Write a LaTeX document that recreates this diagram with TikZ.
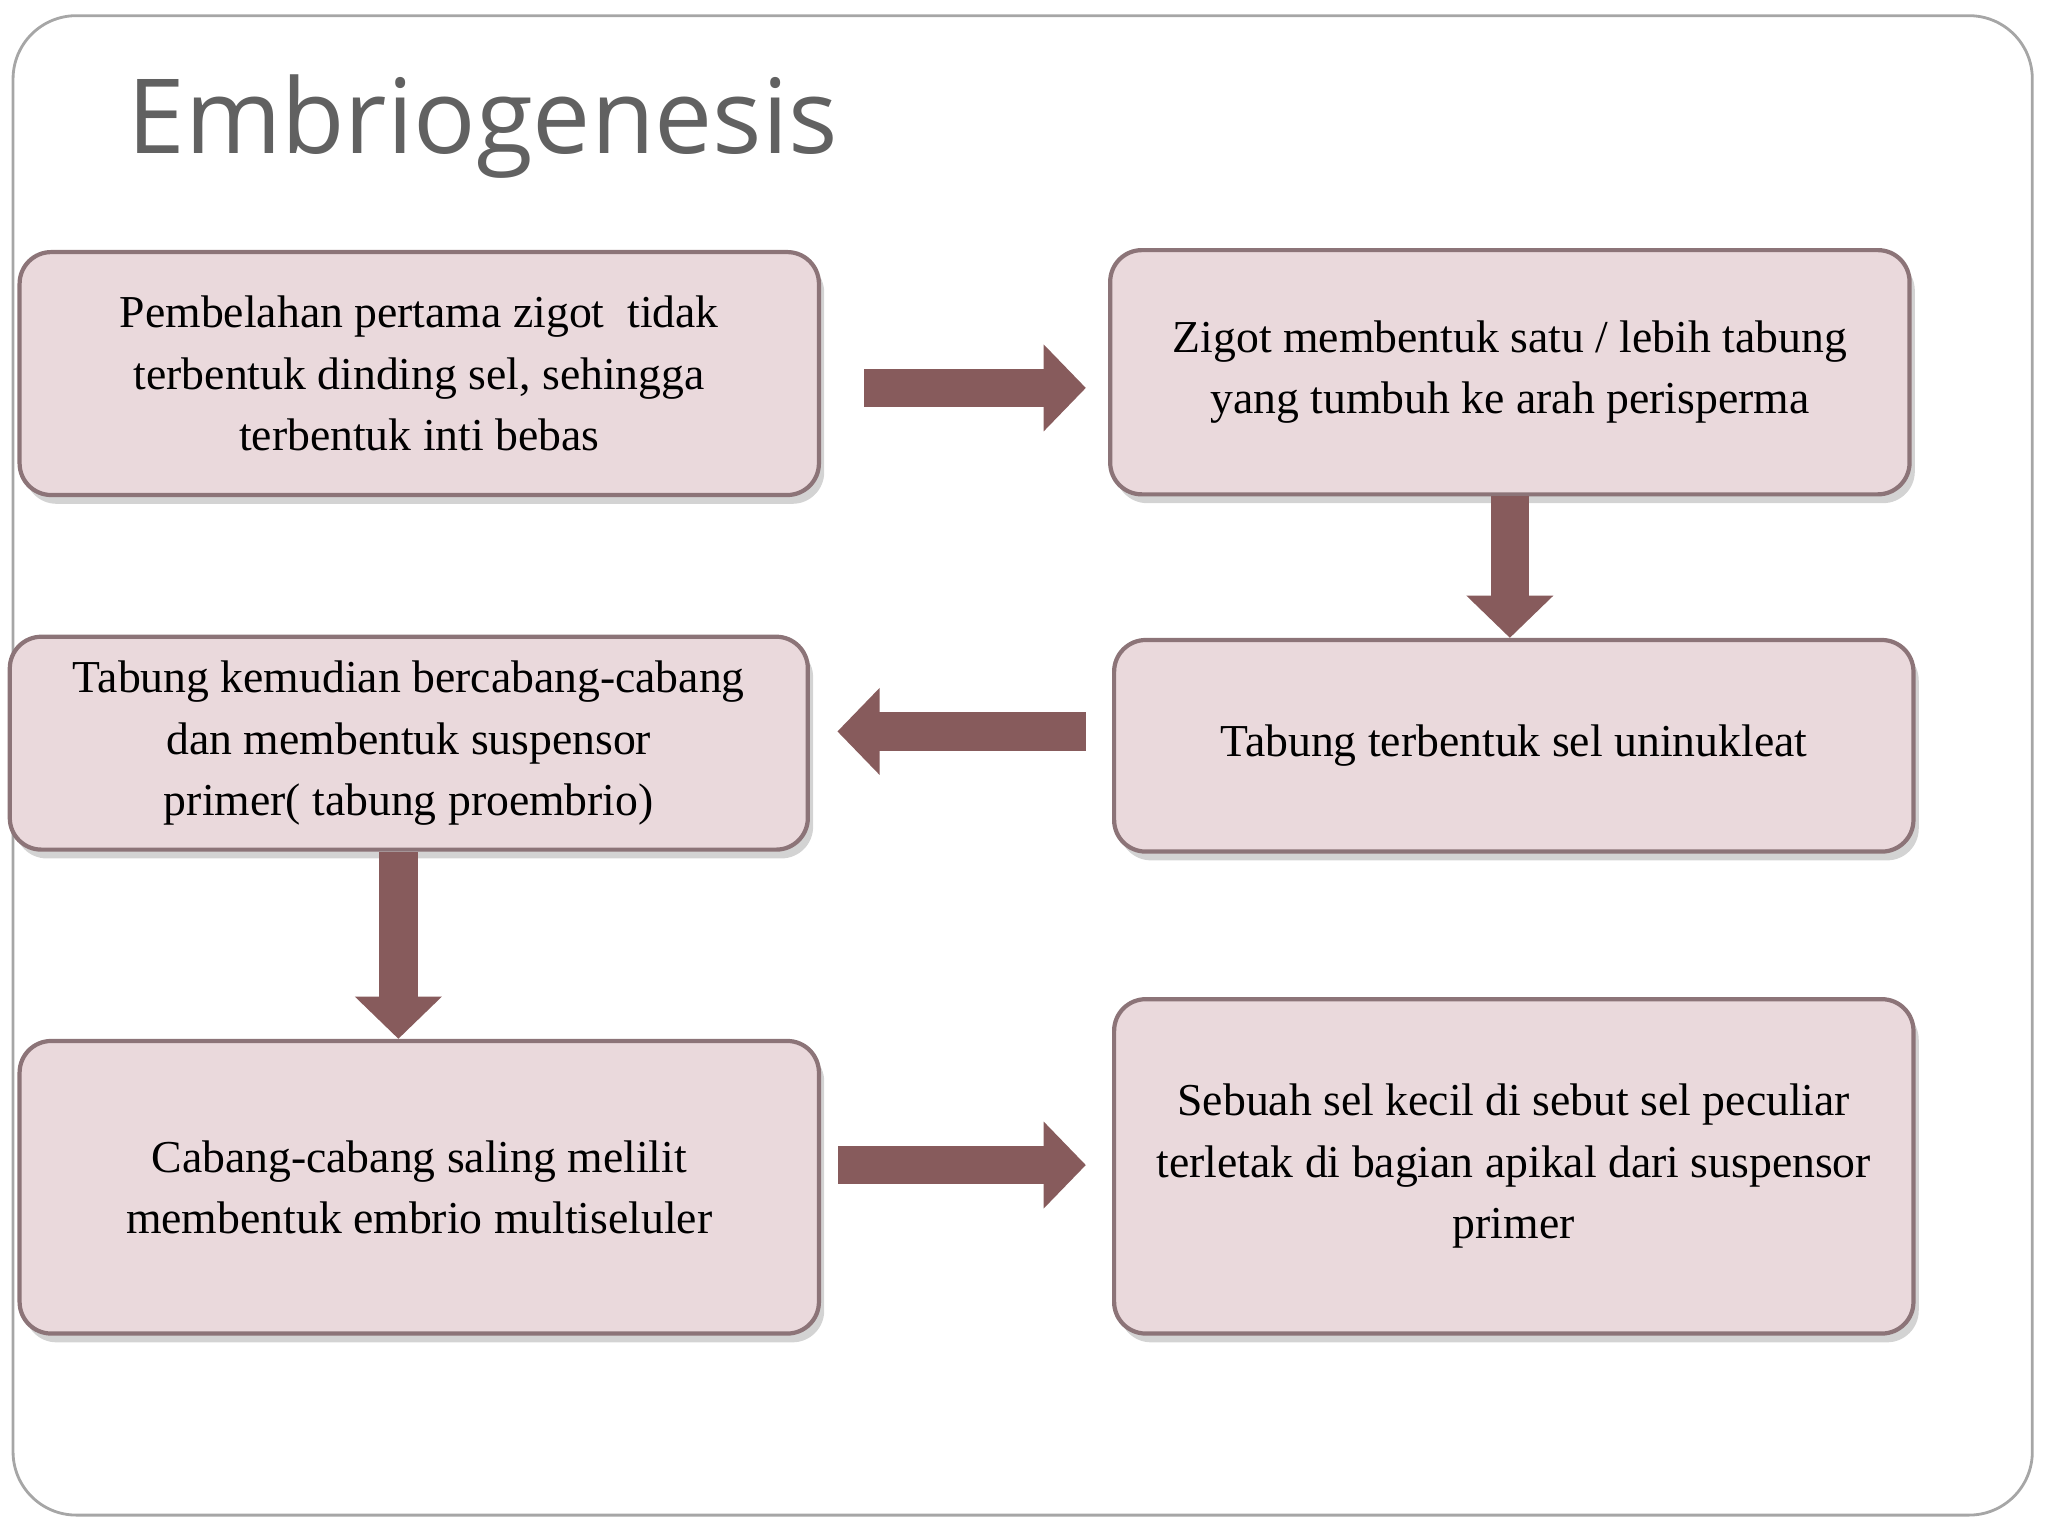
\documentclass[tikz,border=0pt]{standalone}
\usepackage{fontspec}
\setmainfont{Liberation Serif}
\newfontfamily\titlefont{Open Sans}
\usetikzlibrary{arrows.meta,shadows}
\definecolor{boxfill}{HTML}{EAD9DC}
\definecolor{boxline}{HTML}{8C7478}
\definecolor{arrowc}{HTML}{875B5C}
\begin{document}
\begin{tikzpicture}[x=0.01306cm,y=-0.01306cm,
  box/.style={draw=boxline,line width=1.2pt,fill=boxfill,rounded corners=9pt,
    drop shadow={shadow xshift=1.5pt,shadow yshift=-2.5pt,opacity=0.35},
    align=center,font=\fontsize{13}{17.5}\selectfont,inner sep=0pt},
  barrow/.style={draw=arrowc,line width=11pt,-{Triangle[width=24pt,length=12pt,fill=arrowc]}}]
\useasboundingbox (0,0) rectangle (1568,1176);
\draw[gray!70,line width=0.8pt,rounded corners=18pt] (10,12) rectangle (1556,1160);
\node[anchor=west,text=black!62,font=\titlefont\fontsize{29.5}{34}\selectfont] (title) at (88,97) {Embriogenesis};
\node[box,minimum width=612*0.01306cm,minimum height=186*0.01306cm] (A) at (321,286)
 {Pembelahan pertama zigot\ \ tidak\\terbentuk dinding sel, sehingga\\terbentuk inti bebas};
\node[box,minimum width=612*0.01306cm,minimum height=187*0.01306cm] (B) at (1156,285)
 {Zigot membentuk satu / lebih tabung\\yang tumbuh ke arah perisperma};
\node[box,minimum width=612*0.01306cm,minimum height=162*0.01306cm] (C) at (1159,571)
 {Tabung terbentuk sel uninukleat};
\node[box,minimum width=611*0.01306cm,minimum height=163*0.01306cm] (D) at (313,569)
 {Tabung kemudian bercabang-cabang\\dan membentuk suspensor\\primer( tabung proembrio)};
\node[box,minimum width=612*0.01306cm,minimum height=224*0.01306cm] (E) at (321,909)
 {Cabang-cabang saling melilit\\membentuk embrio multiseluler};
\node[box,minimum width=612*0.01306cm,minimum height=256*0.01306cm] (F) at (1159,893)
 {Sebuah sel kecil di sebut sel peculiar\\terletak di bagian apikal dari suspensor\\primer};
\draw[barrow] ([xshift=33*0.01306cm,yshift=-11*0.01306cm]A.east) -- ([xshift=-17*0.01306cm,yshift=-12*0.01306cm]B.west);
\draw[barrow] (B.south) -- (B.south |- C.north);
\draw[barrow] ([xshift=-20*0.01306cm,yshift=11*0.01306cm]C.west) -- ([xshift=21*0.01306cm,yshift=9*0.01306cm]D.east);
\draw[barrow] ([xshift=-8*0.01306cm]D.south) -- ([xshift=-8*0.01306cm]D.south |- E.north);
\draw[barrow] ([xshift=13*0.01306cm,yshift=17*0.01306cm]E.east) -- ([xshift=-20*0.01306cm,yshift=1*0.01306cm]F.west);
\end{tikzpicture}
\end{document}
